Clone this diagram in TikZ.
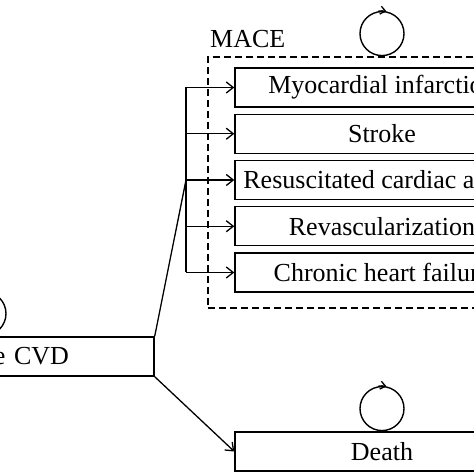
\documentclass[tikz,border=0pt]{standalone}
\usepackage{fontspec}
\setmainfont{Liberation Serif}
\usetikzlibrary{arrows.meta,positioning}

\begin{document}
\begin{tikzpicture}[
    x=1pt, y=1pt,
    every node/.style={inner sep=0pt},
    event/.style={draw, line width=1.4pt, minimum width=294pt, minimum height=39pt, font=\fontsize{26}{30}\selectfont},
    selfloop/.style={draw, circle, line width=1.4pt, minimum size=44pt},
    flow/.style={line width=1.3pt, -{Straight Barb[length=7pt,width=11pt]}},
    link/.style={line width=1.3pt}
]

\useasboundingbox (0,0) rectangle (474,474);

% Baseline state
\node[event, minimum width=340pt, text width=170pt, align=right] (cvd) at (-16,117.5) {e CVD};
\node[selfloop, anchor=south] (cvdloop) at (cvd.north) {};

% MACE group
\node[draw, line width=1.4pt, dash pattern=on 7pt off 4pt, minimum width=348pt, minimum height=251pt] (mace) at (382,291.5) {};
\node[anchor=base west, font=\fontsize{26}{30}\selectfont] (macelabel) at (210,426) {MACE};
\node[selfloop, anchor=south] (maceloop) at (mace.north) {};

\foreach \name/\txt [count=\i] in {mi/Myocardial infarction, stroke/Stroke, rca/Resuscitated cardiac arrest, revasc/Revascularization, chf/Chronic heart failure}
    \node[event] (\name) at ({382},{386.5-46.25*(\i-1)}) {\txt};

% Death state
\node[event] (death) at (382,22.5) {Death};
\node[selfloop, anchor=south] (deathloop) at (death.north) {};

% Transitions
\coordinate (bus) at (186,0);
\draw[link] (bus |- mi.west) -- (bus |- chf.west);
\foreach \name in {mi, stroke, rca, revasc, chf}
    \draw[flow] (bus |- \name.west) -- (\name.west);
\draw[link] (cvd.north east) -- (bus |- rca.west);
\draw[flow] (cvd.south east) -- (death.west);

% Loop arrow tips
\foreach \l in {cvdloop, maceloop, deathloop}
    \draw[flow, -{Straight Barb[length=5pt,width=8pt]}] (\l.100) arc[start angle=100, end angle=78, radius=22pt];

\end{tikzpicture}
\end{document}
